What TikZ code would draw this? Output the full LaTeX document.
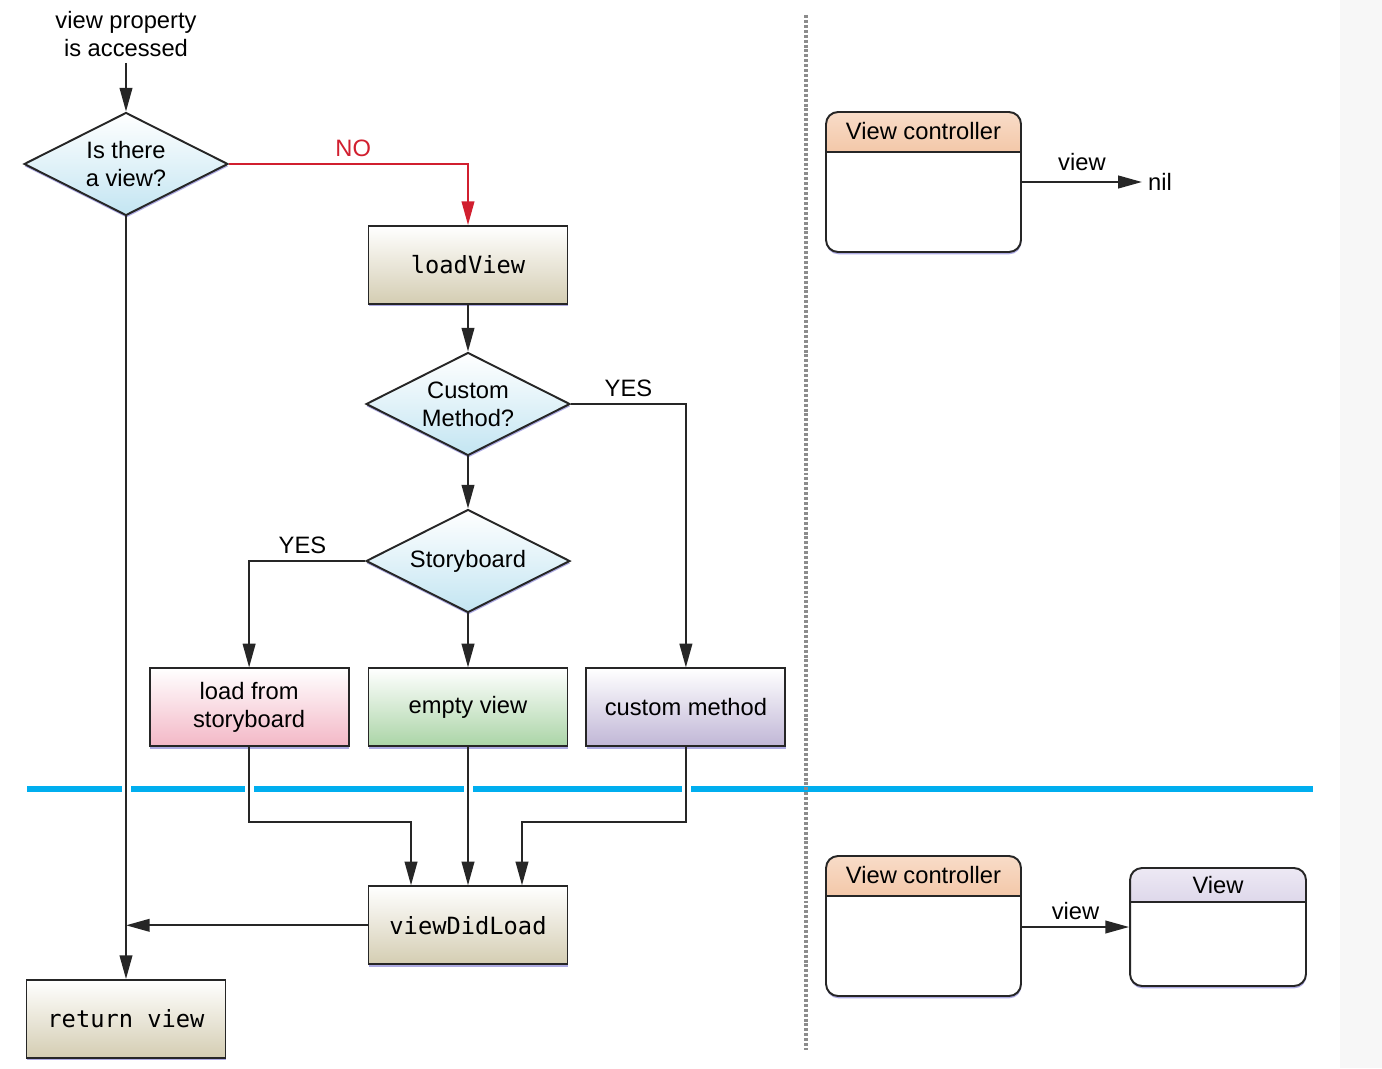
\documentclass[tikz,border=0pt]{standalone}
\usepackage{fontspec}
\setmainfont{Liberation Sans}
\setmonofont{DejaVu Sans Mono}
\usepackage{tikz}
\usetikzlibrary{positioning,arrows.meta,shapes.geometric,calc,shadows}
\definecolor{flowcyan}{HTML}{C3E5F2}
\definecolor{flowkhaki}{HTML}{D4CDB2}
\definecolor{flowpink}{HTML}{F3B7C6}
\definecolor{flowgreen}{HTML}{AAD4A6}
\definecolor{flowlilac}{HTML}{C0B6D6}
\definecolor{flowpeach}{HTML}{E8955A}
\definecolor{flowpeachtop}{HTML}{F8DCC8}
\definecolor{flowlilactop}{HTML}{EDE9F4}
\definecolor{flowlilachead}{HTML}{B8ADD2}
\definecolor{flowred}{HTML}{D11F2F}
\definecolor{flowblue}{HTML}{00AEEF}
\definecolor{flowshadow}{HTML}{8A86D6}

\begin{document}
\begin{tikzpicture}[
    x=0.02cm, y=-0.02cm,
    >={Triangle[length=13.5pt,width=7.2pt]},
    font=\fontsize{13.5pt}{15.9pt}\selectfont,
    edgeline/.style={draw=black!85, line width=1.1pt},
    arrow/.style={->, edgeline},
    softshadow/.style={drop shadow={shadow xshift=0.2pt, shadow yshift=-1.3pt,
                 fill=flowshadow, opacity=0.7}},
    decision/.style={diamond, aspect=2, inner sep=0pt, edgeline, softshadow,
                 top color=white, bottom color=flowcyan, align=center,
                 minimum width=4.08cm, minimum height=2.06cm},
    stepbox/.style={rectangle, edgeline, softshadow, top color=white, bottom color=#1,
                 minimum width=3.98cm, minimum height=1.56cm, align=center},
    codebox/.style={stepbox=flowkhaki, font=\fontsize{13.5pt}{15.9pt}\selectfont\ttfamily},
    objbox/.style n args={3}{rectangle, edgeline, softshadow, rounded corners=0.24cm, fill=white,
                 path picture={
                   \shade[sharp corners, top color=#1, bottom color=#2]
                     (path picture bounding box.north west) rectangle
                     ([yshift=-#3]path picture bounding box.north east);
                   \draw[sharp corners, edgeline]
                     ([yshift=-#3]path picture bounding box.north west) --
                     ([yshift=-#3]path picture bounding box.north east);}},
]
\useasboundingbox (0,0) rectangle (1382,1068);
\fill[black!3] (1340,0) rectangle (1382,1068);

% separators
\draw[flowblue, line width=3.4pt] (27,789) -- (1313,789);
\foreach \gx in {126,249,468,686}
  \fill[white] (\gx-4.5,783) rectangle (\gx+4.5,795);
\draw[black!45, line width=2pt, dash pattern=on 1.7pt off 1.1pt] (806,15) -- (806,1050);

% flow chart
\node[align=center] (access) at (126,34) {view property\\is accessed};
\node[decision] (hasview) at (126,164) {Is there\\a view?};
\node[codebox] (loadview) at (468,265) {loadView};
\node[decision] (custom) at (468,404) {Custom\\Method?};
\node[decision] (story) at (468,561) {Storyboard};
\node[stepbox=flowgreen, below=1.08cm of story] (empty) {empty view};
\node[stepbox=flowpink, left=0.36cm of empty] (fromsb) {load from\\storyboard};
\node[stepbox=flowlilac, right=0.34cm of empty] (custmeth) {custom method};
\node[codebox, below=2.76cm of empty] (didload) {viewDidLoad};
\node[codebox] (retview) at (126,1019) {return view};

\draw[arrow] (access) -- (hasview);
\draw[arrow, draw=flowred] (hasview.east) -| (loadview.north)
    node[pos=0.26, above, text=flowred] {NO};
\draw[arrow] (loadview) -- (custom);
\draw[arrow] (custom.east) -| (custmeth.north) node[pos=0.25, above] {YES};
\draw[arrow] (custom) -- (story);
\draw[arrow] (story.west) -| (fromsb.north) node[pos=0.27, above] {YES};
\draw[arrow] (story) -- (empty);
\draw[arrow] (fromsb.south) -- ++(0,75) -| ([xshift=-1.14cm]didload.north);
\draw[arrow] (empty) -- (didload);
\draw[arrow] (custmeth.south) -- ++(0,75) -| ([xshift=1.08cm]didload.north);
\draw[arrow] (hasview.south) -- (retview.north);
\draw[arrow] (didload.west) -- (didload.west -| hasview.south);

% object graphs
\node[objbox={flowpeachtop}{flowpeach}{0.8cm}, minimum width=3.9cm, minimum height=2.8cm] (vctop) at (923.5,182) {};
\node at ([yshift=-0.4cm]vctop.north) {View controller};
\node (nil) at (1160,182) {nil};
\draw[arrow] (vctop.east) -- (vctop.east -| nil.west) node[midway, above=2.5pt] {view};

\node[objbox={flowpeachtop}{flowpeach}{0.8cm}, minimum width=3.9cm, minimum height=2.8cm] (vcbot) at (923.5,926) {};
\node at ([yshift=-0.4cm]vcbot.north) {View controller};
\node[objbox={flowlilactop}{flowlilachead}{0.68cm}, minimum width=3.52cm, minimum height=2.36cm] (viewobj) at (1218,927) {};
\node at ([yshift=-0.36cm]viewobj.north) {View};
\draw[arrow] (vcbot.east |- viewobj.west) -- (viewobj.west) node[midway, above] {view};
\end{tikzpicture}
\end{document}
